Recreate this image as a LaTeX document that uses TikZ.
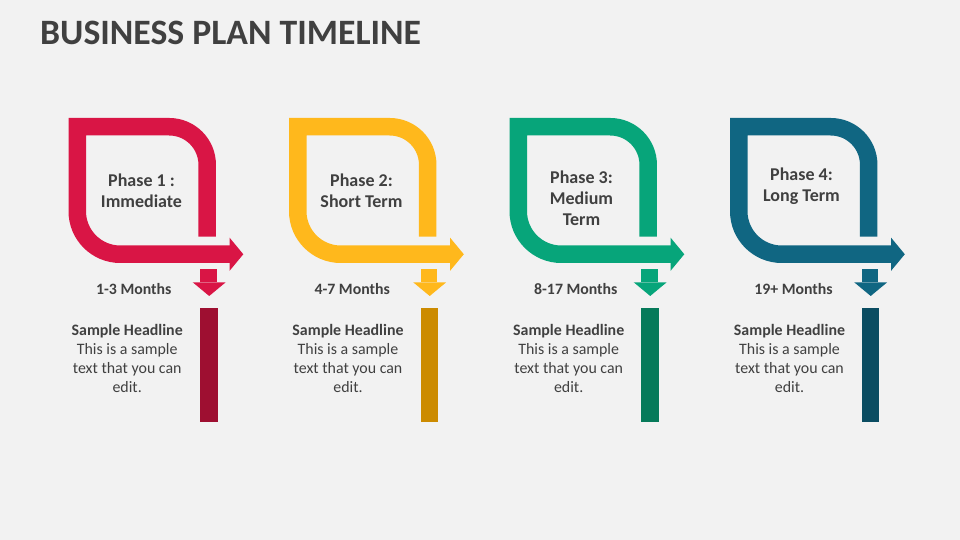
\documentclass[tikz,border=0pt]{standalone}
\usepackage{fontspec}
\setmainfont{Carlito}
\definecolor{bg}{HTML}{F2F2F2}
\definecolor{ink}{HTML}{404040}
\definecolor{cA}{HTML}{D91545}
\definecolor{dA}{HTML}{9E0F31}
\definecolor{cB}{HTML}{FFB81C}
\definecolor{dB}{HTML}{CC8B00}
\definecolor{cC}{HTML}{07A57A}
\definecolor{dC}{HTML}{067A5A}
\definecolor{cD}{HTML}{106682}
\definecolor{dD}{HTML}{0B4D62}
\newcommand{\lstack}[1]{\begin{tabular}[t]{@{}c@{}}#1\end{tabular}}
\tikzset{
  lbl/.style={inner sep=0pt, anchor=base, text=ink},
  phasetxt/.style={lbl, font=\fontsize{18}{21}\selectfont\bfseries},
  monthtxt/.style={lbl, font=\fontsize{15.8}{19}\selectfont\bfseries},
  desctxt/.style={lbl, font=\fontsize{15.9}{18.9}\selectfont},
  band/.style={line width=17.5pt, line join=miter, line cap=butt}
}
\begin{document}
\begin{tikzpicture}[x=1pt,y=1pt]
\useasboundingbox (0,0) rectangle (960,540);
\fill[bg] (0,0) rectangle (960,540);
\node[lbl, anchor=base west, font=\fontsize{35.7}{40}\selectfont\bfseries] (title) at (40,495) {BUSINESS PLAN TIMELINE};
\foreach \i/\c/\d in {0/cA/dA, 1/cB/dB, 2/cC/dC, 3/cD/dD}{
  \begin{scope}[xshift=220.5*\i]
    \draw[band, \c] (207.2,303.3) -- (207.2,375.25) arc[start angle=0, end angle=90, radius=38pt]
      -- (77.25,413.25) -- (77.25,328.75) arc[start angle=180, end angle=270, radius=43pt] -- (230,285.75);
    \fill[\c] (229.5,302.4) -- (243.3,285.75) -- (229.5,269.1) -- cycle;
    \fill[\c] (200,257.7) rectangle (216.7,270.7);
    \fill[\c] (192.7,257.7) -- (225.7,257.7) -- (209.2,244) -- cycle;
    \fill[\d] (200,118.3) rectangle (217.7,231.7);
  \end{scope}
}
\node[phasetxt] (p1) at (141.5,353.3) {\lstack{Phase 1 :\\Immediate}};
\node[phasetxt] (p2) at (361.5,353.3) {\lstack{Phase 2:\\Short Term}};
\node[phasetxt] (p3) at (581.5,356.7) {\lstack{Phase 3:\\Medium\\Term}};
\node[phasetxt] (p4) at (801.5,359) {\lstack{Phase 4:\\Long Term}};
\node[monthtxt] (m1) at (133.8,245) {1-3 Months};
\node[monthtxt] (m2) at (352.2,245) {4-7 Months};
\node[monthtxt] (m3) at (575.8,245) {8-17 Months};
\node[monthtxt] (m4) at (793.5,245) {19+ Months};
\foreach \n/\x in {1/127.2, 2/348, 3/568.7, 4/789.5}{
  \node[desctxt] (d\n) at (\x,204.3) {\lstack{\textbf{Sample Headline}\\This is a sample\\text that you can\\edit.}};
}
\end{tikzpicture}
\end{document}
